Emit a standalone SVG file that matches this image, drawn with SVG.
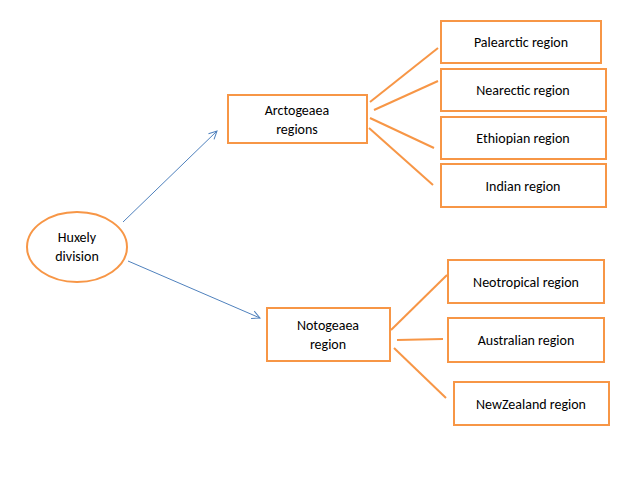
<svg xmlns="http://www.w3.org/2000/svg" width="638" height="478" viewBox="0 0 638 478">
<style>
.n{fill:#fff;stroke:#f79646;stroke-width:2}
.l{stroke:#f79646;stroke-width:2;fill:none}
.a{stroke:#4f81bd;stroke-width:1;fill:none}
text{font-family:Calibri,Carlito,"Liberation Sans",sans-serif;font-size:14px;fill:#000;text-anchor:middle}
</style>
<defs><marker id="ar" markerWidth="10" markerHeight="10" refX="9" refY="5" orient="auto" markerUnits="userSpaceOnUse"><path d="M1,1 L9,5 L1,9" fill="none" stroke="#4f81bd"/></marker></defs>
<rect width="638" height="478" fill="#fff"/>
<g id="connectors">
<line class="a" x1="123" y1="222" x2="217" y2="131" marker-end="url(#ar)"/>
<line class="a" x1="128" y1="261" x2="260" y2="318" marker-end="url(#ar)"/>
<line class="l" x1="370" y1="102" x2="438" y2="48"/>
<line class="l" x1="374" y1="110" x2="438" y2="81"/>
<line class="l" x1="370" y1="118" x2="434" y2="148"/>
<line class="l" x1="369" y1="128" x2="433" y2="185"/>
<line class="l" x1="391" y1="330" x2="447" y2="275"/>
<line class="l" x1="397" y1="340" x2="443" y2="339"/>
<line class="l" x1="394" y1="348" x2="446" y2="398"/>
</g>
<g id="huxely"><ellipse class="n" cx="77" cy="247" rx="50" ry="35"/><text x="77" y="242">Huxely</text><text x="77" y="261">division</text></g>
<g id="arcto"><rect class="n" x="228" y="95" width="139" height="48"/><text x="297" y="115">Arctogeaea</text><text x="297" y="134">regions</text></g>
<g id="noto"><rect class="n" x="267" y="308" width="123" height="53"/><text x="328" y="330">Notogeaea</text><text x="328" y="349">region</text></g>
<g id="pale"><rect class="n" x="441" y="21" width="160" height="42"/><text x="521" y="47">Palearctic region</text></g>
<g id="near"><rect class="n" x="441" y="69" width="165" height="42"/><text x="523" y="95">Nearectic region</text></g>
<g id="ethi"><rect class="n" x="441" y="117" width="165" height="42"/><text x="523" y="143">Ethiopian region</text></g>
<g id="indi"><rect class="n" x="441" y="164" width="165" height="43"/><text x="523" y="191">Indian region</text></g>
<g id="neot"><rect class="n" x="448" y="260" width="156" height="43"/><text x="526" y="287">Neotropical region</text></g>
<g id="aust"><rect class="n" x="448" y="318" width="156" height="44"/><text x="526" y="345">Australian region</text></g>
<g id="newz"><rect class="n" x="454" y="382" width="155" height="43"/><text x="531" y="409">NewZealand region</text></g>
</svg>
